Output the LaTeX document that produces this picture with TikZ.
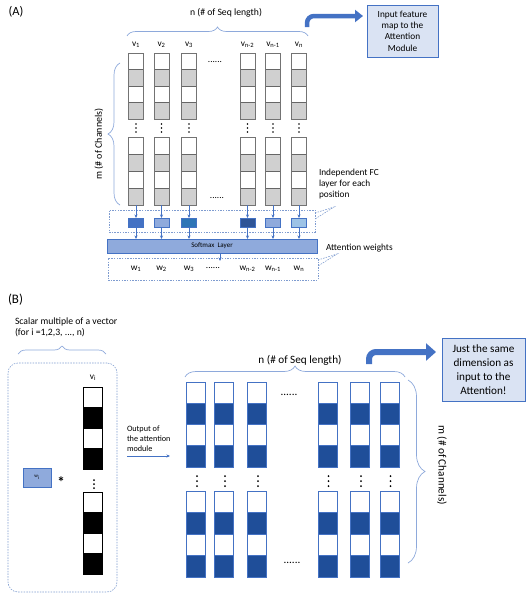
\documentclass[tikz,border=0pt]{standalone}
\usepackage{fontspec}
\setmainfont{Carlito}
\usetikzlibrary{arrows.meta,decorations.pathreplacing,calc}
\definecolor{bluemid}{HTML}{4472C4}
\definecolor{bluelight}{HTML}{8FAADC}
\definecolor{bluepale}{HTML}{DAE3F3}
\definecolor{bluedark}{HTML}{2F5597}
\definecolor{bluedeep}{HTML}{1F4E99}
\definecolor{bluesteel}{HTML}{2E75B6}
\definecolor{bluesky}{HTML}{9DC3E6}
\definecolor{cellgrey}{HTML}{D0D0D0}
\definecolor{bracecol}{HTML}{8EA9DB}
\definecolor{dashcol}{HTML}{7F9CD0}
\begin{document}
\begin{tikzpicture}[x=1pt,y=-1pt,
  every node/.style={inner sep=0pt, outer sep=0pt},
  lbl/.style={font=\fontsize{9.3}{11.3}\selectfont},
  lblB/.style={font=\fontsize{11.2}{14}\selectfont},
  celA/.style={draw=black!60, line width=0.7pt},
  celB/.style={draw=bluemid, line width=0.8pt},
  celV/.style={draw=black, line width=0.9pt},
  blockA/.style={draw=black!55, line width=0.8pt, minimum width=15pt, minimum height=68pt},
  blockB/.style={draw=bluemid, line width=0.8pt, minimum width=19pt, minimum height=86pt},
  fcbox/.style={draw=bluemid, line width=0.6pt, minimum width=15pt, minimum height=9pt},
  arrA/.style={draw=bluemid, line width=0.6pt, -{Stealth[length=3.5pt,width=3pt]}},
  dashbox/.style={draw=dashcol, line width=0.6pt, dash pattern=on 1.5pt off 1.2pt},
  bracestyle/.style={draw=bracecol, line width=0.7pt, decorate, decoration={brace, amplitude=#1}},
  bigarrow/.style={draw=bluemid, line width=#1, rounded corners=7pt},
  infobox/.style={draw=bluemid, fill=bluepale, line width=0.8pt, align=center},
  dotsty/.style={fill=black}
]
\useasboundingbox (0,0) rectangle (530,597);

% ================= (A) =================
\node[font=\fontsize{12.5}{14}\selectfont] (labA) at (16,12) {(A)};
\node[font=\fontsize{9.7}{11}\selectfont] (nA) at (226,13) {n (\# of Seq length)};
\draw[bracestyle=9pt] (127,36) -- (308,36);
\draw[bracestyle=12pt] (120,205) -- (120,63);
\node[font=\fontsize{10}{11}\selectfont, rotate=90] (mA) at (99,144) {m (\# of Channels)};

\node[infobox, lbl, minimum width=71pt, minimum height=52pt] (inA) at (402.5,31) {Input feature\\map to the\\Attention\\Module};
\coordinate (arrAstart) at (307,27);
\coordinate (arrAtop) at (307,16);
\draw[bigarrow=4.5pt, -{Triangle[width=12pt,length=8pt]}, shorten >=4pt] (arrAstart) -- (arrAtop) -- (arrAtop -| inA.west);

% columns
\foreach \i/\x/\s in {1/136/1,2/161.5/2,3/189/3,4/247.5/n-2,5/273/n-1,6/299/n} {
  \foreach \k/\c in {0/white,1/cellgrey,2/white,3/cellgrey} {
    \filldraw[celA, fill=\c] (\x-7.5,53+\k*16.5) rectangle ++(15,16.5);
    \filldraw[celA, fill=\c] (\x-7.5,137+\k*17) rectangle ++(15,17);
  }
  \node[blockA, minimum height=66pt] (t\i) at (\x,86) {};
  \node[blockA] (c\i) at (\x,171) {};
  \node[lbl] (v\i) at (\x,45) {v\textsubscript{\s}};
  \node[lbl] (w\i) at (\x,269) {w\textsubscript{\s}};
  \foreach \d in {124,128,132} \fill[dotsty] (\x,\d) circle[radius=0.9pt];
}
\node[lbl] (dA1) at (215,62) {......};
\node[lbl] (dA2) at (217,198) {......};
\node[lbl] (dW) at (213,268) {......};

\node[dashbox, minimum width=206pt, minimum height=22pt] (fc) at (212,221) {};
\node[draw=bluemid, fill=bluelight, line width=0.6pt, minimum width=210pt, minimum height=14pt, font=\fontsize{7}{8}\selectfont] (sm) at (212,246) {Softmax\ \ Layer};
\node[dashbox, minimum width=210pt, minimum height=22pt] (wbox) at (213,269) {};

\foreach \i/\x/\c in {1/136/bluemid,2/161.5/bluelight,3/189/bluesteel,4/247.5/bluedark,5/273/bluelight,6/299/bluesky} {
  \node[fcbox, fill=\c] (f\i) at (\x,222.5) {};
  \draw[arrA] (c\i.south) -- (f\i.north);
  \draw[arrA] (f\i.south) -- (f\i.south |- sm.north);
}
\draw[arrA] ([xshift=8pt]sm.south) -- ([xshift=8pt,yshift=-3pt]sm.south |- wbox.north);

\node[lbl, align=left, anchor=west] (fctext) at (319,184) {Independent FC\\layer for each\\position};
\node[lbl, anchor=west] (attw) at (326,248) {Attention weights};
\coordinate (fctip) at (334,207);
\draw[dashbox] ([yshift=8pt]fc.east) -- (fctip) -- ([yshift=2pt]fc.east);
\coordinate (wtip) at (337,254);
\draw[dashbox] ([yshift=9pt]wbox.east) -- (wtip) -- ([yshift=3pt]wbox.east);

% ================= (B) =================
\node[font=\fontsize{13}{15}\selectfont] (labB) at (15.5,300) {(B)};
\node[font=\fontsize{9.7}{11}\selectfont, align=left, anchor=west] (scal) at (15,327.5) {Scalar multiple of a vector\\(for i =1,2,3, ..., n)};
\draw[bracestyle=8pt] (18,354) -- (106,354);
\node[dashbox, rounded corners=10pt, minimum width=109pt, minimum height=229pt] (scbox) at (62.5,477.5) {};

\foreach \k/\c in {0/white,1/black,2/white,3/black} {
  \filldraw[celV, fill=\c] (83,387+\k*20.5) rectangle ++(19,20.5);
  \filldraw[celV, fill=\c] (83,492+\k*20.5) rectangle ++(19,20.5);
}
\node[lbl] (vi) at (93,378) {v\textsubscript{i}};
\foreach \d in {480,484,488} \fill[dotsty] (94,\d) circle[radius=1pt];
\node[draw=bluemid, fill=bluelight, line width=0.7pt, minimum width=28pt, minimum height=19pt, font=\fontsize{5}{6}\selectfont] (wi) at (37,477.5) {w\textsubscript{i}};
\node[font=\fontsize{15}{15}\selectfont\bfseries] (star) at (61,482.5) {*};

\node[font=\fontsize{8.2}{10}\selectfont, align=left, anchor=north west] (outtxt) at (127,426) {Output of\\the attention\\module};
\coordinate (outend) at (170,456);
\draw[arrA] (outtxt.west |- outend) -- (outend);

\node[lblB] (nB) at (300,360) {n (\# of Seq length)};
\draw[bracestyle=11pt] (185,377) -- (405,377);
\draw[bracestyle=17pt] (408,380) -- (408,563);
\node[lblB, rotate=-90] (mB) at (442,465) {m (\# of Channels)};

\node[infobox, lblB, minimum width=83pt, minimum height=63pt] (inB) at (483.5,369.5) {Just the same\\dimension as\\input to the\\Attention!};
\coordinate (arrBstart) at (369,364);
\coordinate (arrBtop) at (369,352);
\draw[bigarrow=6pt, -{Triangle[width=17pt,length=10pt]}, shorten >=6pt] (arrBstart) -- (arrBtop) -- (arrBtop -| inB.west);

\foreach \i/\x in {1/196,2/224,3/257,4/327.5,5/360,6/389.5} {
  \foreach \k/\c in {0/white,1/bluedeep,2/white,3/bluedeep} {
    \filldraw[celB, fill=\c] (\x-9.5,382+\k*21.25) rectangle ++(19,21.25);
    \filldraw[celB, fill=\c] (\x-9.5,491+\k*21.5) rectangle ++(19,21.5);
  }
  \node[blockB, minimum height=85pt] (bt\i) at (\x,424.5) {};
  \node[blockB] (bb\i) at (\x,534) {};
  \foreach \d in {476,481,486} \fill[dotsty] (\x+1,\d) circle[radius=1pt];
}
\node[lblB] (dB1) at (289,395) {......};
\node[lblB] (dB2) at (292,563) {......};
\end{tikzpicture}
\end{document}
